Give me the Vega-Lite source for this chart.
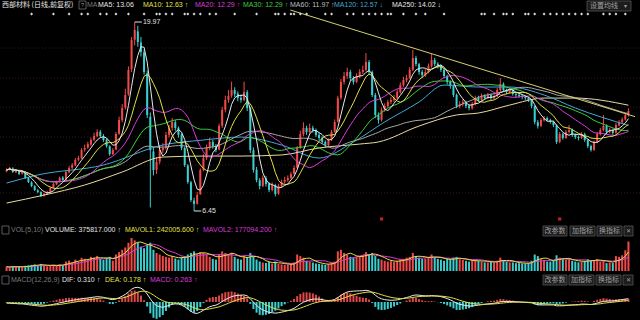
{
"$schema":"https://vega.github.io/schema/vega-lite/v6.json",
"width":640,"height":320,"padding":0,"autosize":{"type":"none"},
"background":"#000000",
"config":{"view":{"stroke":null},"axis":{"disable":true},"text":{"font":"Liberation Sans"}},
"resolve":{"scale":{"y":"independent"}},
"datasets":{
"k":[
{"i":0,"o":9.30,"h":9.50,"l":9.22,"c":9.38,"v":54,"f":-0.10,"e":-0.08,"m":-0.04},
{"i":1,"o":9.40,"h":9.62,"l":9.35,"c":9.53,"v":48,"f":-0.12,"e":-0.09,"m":-0.06},
{"i":2,"o":9.50,"h":9.58,"l":9.18,"c":9.24,"v":60,"f":-0.15,"e":-0.10,"m":-0.10},
{"i":3,"o":9.22,"h":9.45,"l":9.15,"c":9.38,"v":51,"f":-0.15,"e":-0.11,"m":-0.08},
{"i":4,"o":9.36,"h":9.42,"l":9.02,"c":9.10,"v":57,"f":-0.18,"e":-0.12,"m":-0.11},
{"i":5,"o":9.12,"h":9.32,"l":9.05,"c":9.24,"v":48,"f":-0.18,"e":-0.14,"m":-0.09},
{"i":6,"o":9.20,"h":9.26,"l":8.74,"c":8.81,"v":66,"f":-0.22,"e":-0.15,"m":-0.14},
{"i":7,"o":8.80,"h":8.88,"l":8.45,"c":8.53,"v":72,"f":-0.26,"e":-0.17,"m":-0.17},
{"i":8,"o":8.50,"h":8.58,"l":8.16,"c":8.24,"v":78,"f":-0.30,"e":-0.20,"m":-0.20},
{"i":9,"o":8.22,"h":8.30,"l":7.88,"c":7.95,"v":84,"f":-0.34,"e":-0.23,"m":-0.23},
{"i":10,"o":7.92,"h":8.02,"l":7.72,"c":7.81,"v":72,"f":-0.36,"e":-0.25,"m":-0.21},
{"i":11,"o":7.80,"h":7.86,"l":7.45,"c":7.52,"v":90,"f":-0.40,"e":-0.28,"m":-0.23},
{"i":12,"o":7.55,"h":7.76,"l":7.48,"c":7.67,"v":66,"f":-0.38,"e":-0.30,"m":-0.16},
{"i":13,"o":7.66,"h":7.90,"l":7.60,"c":7.81,"v":60,"f":-0.34,"e":-0.31,"m":-0.06},
{"i":14,"o":7.82,"h":8.18,"l":7.78,"c":8.10,"v":72,"f":-0.28,"e":-0.30,"m":0.05},
{"i":15,"o":8.12,"h":8.46,"l":8.05,"c":8.38,"v":78,"f":-0.22,"e":-0.29,"m":0.13},
{"i":16,"o":8.36,"h":8.62,"l":8.30,"c":8.53,"v":66,"f":-0.16,"e":-0.26,"m":0.20},
{"i":17,"o":8.52,"h":8.92,"l":8.48,"c":8.81,"v":84,"f":-0.08,"e":-0.23,"m":0.29},
{"i":18,"o":8.84,"h":8.95,"l":8.60,"c":8.67,"v":72,"f":-0.04,"e":-0.19,"m":0.30},
{"i":19,"o":8.70,"h":9.35,"l":8.65,"c":9.24,"v":120,"f":0.04,"e":-0.14,"m":0.37},
{"i":20,"o":9.22,"h":9.66,"l":9.15,"c":9.53,"v":132,"f":0.10,"e":-0.09,"m":0.39},
{"i":21,"o":9.55,"h":9.88,"l":9.45,"c":9.74,"v":108,"f":0.15,"e":-0.05,"m":0.39},
{"i":22,"o":9.72,"h":10.25,"l":9.66,"c":10.10,"v":144,"f":0.20,"e":0.00,"m":0.39},
{"i":23,"o":10.12,"h":10.40,"l":10.00,"c":10.24,"v":120,"f":0.24,"e":0.05,"m":0.38},
{"i":24,"o":10.22,"h":10.95,"l":10.18,"c":10.81,"v":168,"f":0.30,"e":0.10,"m":0.40},
{"i":25,"o":10.84,"h":11.20,"l":10.70,"c":10.96,"v":156,"f":0.34,"e":0.15,"m":0.38},
{"i":26,"o":10.98,"h":11.40,"l":10.90,"c":11.24,"v":144,"f":0.38,"e":0.20,"m":0.37},
{"i":27,"o":11.20,"h":11.70,"l":11.12,"c":11.53,"v":180,"f":0.42,"e":0.24,"m":0.36},
{"i":28,"o":11.55,"h":12.05,"l":11.45,"c":11.82,"v":168,"f":0.46,"e":0.28,"m":0.35},
{"i":29,"o":11.80,"h":12.30,"l":11.72,"c":12.10,"v":192,"f":0.50,"e":0.33,"m":0.35},
{"i":30,"o":12.12,"h":12.25,"l":11.70,"c":11.82,"v":156,"f":0.48,"e":0.36,"m":0.24},
{"i":31,"o":11.80,"h":11.95,"l":11.40,"c":11.53,"v":144,"f":0.44,"e":0.37,"m":0.13},
{"i":32,"o":11.55,"h":11.62,"l":10.98,"c":11.10,"v":168,"f":0.36,"e":0.37,"m":-0.02},
{"i":33,"o":11.08,"h":11.15,"l":10.40,"c":10.53,"v":180,"f":0.26,"e":0.35,"m":-0.18},
{"i":34,"o":10.52,"h":10.95,"l":10.45,"c":10.81,"v":132,"f":0.22,"e":0.32,"m":-0.20},
{"i":35,"o":10.85,"h":12.10,"l":10.80,"c":11.96,"v":210,"f":0.28,"e":0.31,"m":-0.07},
{"i":36,"o":11.98,"h":13.20,"l":11.90,"c":12.96,"v":240,"f":0.40,"e":0.33,"m":0.14},
{"i":37,"o":12.95,"h":14.10,"l":12.80,"c":13.82,"v":270,"f":0.55,"e":0.38,"m":0.35},
{"i":38,"o":13.85,"h":15.20,"l":13.70,"c":14.75,"v":300,"f":0.72,"e":0.44,"m":0.55},
{"i":39,"o":14.80,"h":16.80,"l":14.70,"c":16.54,"v":360,"f":0.95,"e":0.55,"m":0.81},
{"i":40,"o":16.60,"h":18.90,"l":16.40,"c":18.68,"v":420,"f":1.20,"e":0.68,"m":1.05},
{"i":41,"o":18.70,"h":19.97,"l":18.30,"c":19.40,"v":390,"f":1.35,"e":0.81,"m":1.08},
{"i":42,"o":19.30,"h":19.70,"l":18.20,"c":18.54,"v":360,"f":1.38,"e":0.93,"m":0.91},
{"i":43,"o":18.50,"h":18.90,"l":17.50,"c":17.82,"v":310,"f":1.30,"e":1.00,"m":0.60},
{"i":44,"o":17.80,"h":18.00,"l":16.20,"c":16.39,"v":290,"f":1.10,"e":1.02,"m":0.16},
{"i":45,"o":16.30,"h":16.50,"l":13.10,"c":13.32,"v":340,"f":0.75,"e":0.97,"m":-0.43},
{"i":46,"o":13.20,"h":13.50,"l":6.70,"c":10.81,"v":360,"f":0.30,"e":0.83,"m":-1.07},
{"i":47,"o":10.70,"h":11.00,"l":9.00,"c":9.38,"v":270,"f":-0.10,"e":0.65,"m":-1.49},
{"i":48,"o":9.40,"h":10.30,"l":9.10,"c":9.96,"v":230,"f":-0.35,"e":0.45,"m":-1.59},
{"i":49,"o":9.98,"h":11.10,"l":9.80,"c":10.81,"v":210,"f":-0.45,"e":0.27,"m":-1.44},
{"i":50,"o":10.80,"h":11.30,"l":10.60,"c":10.96,"v":190,"f":-0.50,"e":0.11,"m":-1.23},
{"i":51,"o":10.95,"h":12.10,"l":10.85,"c":11.89,"v":180,"f":-0.42,"e":0.01,"m":-0.85},
{"i":52,"o":11.90,"h":12.60,"l":11.70,"c":12.39,"v":170,"f":-0.32,"e":-0.06,"m":-0.52},
{"i":53,"o":12.40,"h":13.10,"l":12.20,"c":12.82,"v":190,"f":-0.22,"e":-0.09,"m":-0.26},
{"i":54,"o":12.80,"h":12.95,"l":12.20,"c":12.39,"v":160,"f":-0.18,"e":-0.11,"m":-0.14},
{"i":55,"o":12.40,"h":12.50,"l":11.70,"c":11.89,"v":145,"f":-0.20,"e":-0.13,"m":-0.15},
{"i":56,"o":11.90,"h":12.00,"l":10.80,"c":10.96,"v":180,"f":-0.30,"e":-0.16,"m":-0.28},
{"i":57,"o":10.95,"h":11.05,"l":9.60,"c":9.74,"v":190,"f":-0.45,"e":-0.22,"m":-0.46},
{"i":58,"o":9.70,"h":9.80,"l":8.40,"c":8.53,"v":210,"f":-0.65,"e":-0.31,"m":-0.69},
{"i":59,"o":8.50,"h":8.60,"l":7.10,"c":7.24,"v":230,"f":-0.88,"e":-0.42,"m":-0.92},
{"i":60,"o":7.20,"h":7.40,"l":6.45,"c":6.95,"v":250,"f":-1.05,"e":-0.55,"m":-1.01},
{"i":61,"o":6.98,"h":7.80,"l":6.90,"c":7.60,"v":215,"f":-1.08,"e":-0.65,"m":-0.85},
{"i":62,"o":7.65,"h":9.50,"l":7.60,"c":9.38,"v":240,"f":-0.95,"e":-0.71,"m":-0.48},
{"i":63,"o":9.40,"h":10.50,"l":9.30,"c":10.24,"v":230,"f":-0.78,"e":-0.73,"m":-0.11},
{"i":64,"o":10.25,"h":11.20,"l":10.10,"c":10.96,"v":205,"f":-0.60,"e":-0.70,"m":0.20},
{"i":65,"o":10.98,"h":11.70,"l":10.80,"c":11.39,"v":180,"f":-0.45,"e":-0.65,"m":0.40},
{"i":66,"o":11.40,"h":11.55,"l":10.90,"c":11.10,"v":155,"f":-0.36,"e":-0.59,"m":0.47},
{"i":67,"o":11.10,"h":11.25,"l":10.65,"c":10.81,"v":145,"f":-0.30,"e":-0.53,"m":0.47},
{"i":68,"o":10.85,"h":12.70,"l":10.80,"c":12.53,"v":215,"f":-0.15,"e":-0.46,"m":0.61},
{"i":69,"o":12.55,"h":13.90,"l":12.40,"c":13.68,"v":250,"f":0.05,"e":-0.36,"m":0.81},
{"i":70,"o":13.70,"h":14.70,"l":13.50,"c":14.39,"v":230,"f":0.22,"e":-0.24,"m":0.92},
{"i":71,"o":14.40,"h":15.10,"l":14.20,"c":14.68,"v":205,"f":0.36,"e":-0.12,"m":0.96},
{"i":72,"o":14.70,"h":15.70,"l":14.55,"c":15.11,"v":230,"f":0.50,"e":0.00,"m":0.99},
{"i":73,"o":15.10,"h":15.30,"l":14.60,"c":14.82,"v":180,"f":0.58,"e":0.12,"m":0.92},
{"i":74,"o":14.85,"h":15.00,"l":14.30,"c":14.53,"v":155,"f":0.62,"e":0.22,"m":0.80},
{"i":75,"o":14.55,"h":14.80,"l":14.20,"c":14.39,"v":145,"f":0.64,"e":0.30,"m":0.68},
{"i":76,"o":14.40,"h":15.70,"l":14.30,"c":14.96,"v":190,"f":0.66,"e":0.37,"m":0.57},
{"i":77,"o":14.95,"h":15.10,"l":13.60,"c":13.82,"v":180,"f":0.58,"e":0.42,"m":0.33},
{"i":78,"o":13.80,"h":13.90,"l":10.60,"c":10.81,"v":230,"f":0.30,"e":0.39,"m":-0.18},
{"i":79,"o":10.80,"h":11.00,"l":9.20,"c":9.38,"v":180,"f":-0.02,"e":0.31,"m":-0.66},
{"i":80,"o":9.40,"h":9.60,"l":8.50,"c":8.67,"v":145,"f":-0.32,"e":0.18,"m":-1.01},
{"i":81,"o":8.65,"h":8.80,"l":8.00,"c":8.24,"v":120,"f":-0.58,"e":0.03,"m":-1.22},
{"i":82,"o":8.25,"h":9.00,"l":8.15,"c":8.81,"v":108,"f":-0.75,"e":-0.13,"m":-1.25},
{"i":83,"o":8.80,"h":8.95,"l":8.20,"c":8.38,"v":102,"f":-0.88,"e":-0.28,"m":-1.21},
{"i":84,"o":8.40,"h":8.50,"l":7.80,"c":7.95,"v":114,"f":-0.98,"e":-0.42,"m":-1.13},
{"i":85,"o":7.96,"h":8.50,"l":7.85,"c":8.31,"v":96,"f":-1.02,"e":-0.54,"m":-0.96},
{"i":86,"o":8.30,"h":8.40,"l":7.50,"c":7.67,"v":120,"f":-1.05,"e":-0.64,"m":-0.82},
{"i":87,"o":7.70,"h":8.40,"l":7.60,"c":8.24,"v":90,"f":-1.02,"e":-0.72,"m":-0.61},
{"i":88,"o":8.22,"h":8.70,"l":8.10,"c":8.53,"v":84,"f":-0.96,"e":-0.77,"m":-0.39},
{"i":89,"o":8.55,"h":8.90,"l":8.40,"c":8.67,"v":78,"f":-0.90,"e":-0.79,"m":-0.22},
{"i":90,"o":8.65,"h":9.00,"l":8.55,"c":8.81,"v":84,"f":-0.82,"e":-0.80,"m":-0.04},
{"i":91,"o":8.82,"h":9.25,"l":8.75,"c":9.10,"v":90,"f":-0.72,"e":-0.78,"m":0.12},
{"i":92,"o":9.12,"h":9.70,"l":9.05,"c":9.53,"v":108,"f":-0.60,"e":-0.75,"m":0.29},
{"i":93,"o":9.55,"h":11.10,"l":9.50,"c":10.96,"v":210,"f":-0.40,"e":-0.68,"m":0.55},
{"i":94,"o":10.98,"h":12.20,"l":10.90,"c":11.96,"v":190,"f":-0.20,"e":-0.58,"m":0.76},
{"i":95,"o":11.95,"h":12.80,"l":11.80,"c":12.39,"v":170,"f":-0.02,"e":-0.47,"m":0.90},
{"i":96,"o":12.40,"h":12.55,"l":11.90,"c":12.10,"v":130,"f":0.10,"e":-0.36,"m":0.91},
{"i":97,"o":12.10,"h":12.70,"l":12.00,"c":12.39,"v":120,"f":0.20,"e":-0.25,"m":0.89},
{"i":98,"o":12.40,"h":12.55,"l":12.05,"c":12.24,"v":108,"f":0.26,"e":-0.14,"m":0.81},
{"i":99,"o":12.25,"h":12.35,"l":11.75,"c":11.89,"v":96,"f":0.28,"e":-0.06,"m":0.68},
{"i":100,"o":11.90,"h":12.05,"l":11.50,"c":11.67,"v":90,"f":0.26,"e":0.01,"m":0.51},
{"i":101,"o":11.68,"h":11.80,"l":11.25,"c":11.39,"v":84,"f":0.22,"e":0.05,"m":0.34},
{"i":102,"o":11.40,"h":11.50,"l":11.00,"c":11.17,"v":78,"f":0.16,"e":0.07,"m":0.18},
{"i":103,"o":11.15,"h":11.65,"l":11.05,"c":11.53,"v":90,"f":0.14,"e":0.08,"m":0.11},
{"i":104,"o":11.55,"h":12.25,"l":11.45,"c":12.10,"v":108,"f":0.16,"e":0.10,"m":0.12},
{"i":105,"o":12.12,"h":13.00,"l":12.05,"c":12.82,"v":120,"f":0.24,"e":0.13,"m":0.23},
{"i":106,"o":12.85,"h":14.70,"l":12.80,"c":14.53,"v":250,"f":0.42,"e":0.19,"m":0.47},
{"i":107,"o":14.55,"h":15.90,"l":14.40,"c":15.68,"v":270,"f":0.62,"e":0.27,"m":0.69},
{"i":108,"o":15.70,"h":16.40,"l":15.50,"c":16.11,"v":230,"f":0.80,"e":0.38,"m":0.84},
{"i":109,"o":16.10,"h":16.70,"l":15.90,"c":16.39,"v":205,"f":0.94,"e":0.49,"m":0.90},
{"i":110,"o":16.40,"h":16.55,"l":15.75,"c":15.96,"v":180,"f":1.00,"e":0.59,"m":0.82},
{"i":111,"o":15.95,"h":16.10,"l":15.50,"c":15.68,"v":170,"f":1.02,"e":0.68,"m":0.68},
{"i":112,"o":15.70,"h":16.30,"l":15.60,"c":16.11,"v":180,"f":1.04,"e":0.75,"m":0.58},
{"i":113,"o":16.10,"h":16.60,"l":15.95,"c":16.39,"v":190,"f":1.05,"e":0.81,"m":0.48},
{"i":114,"o":16.40,"h":16.85,"l":16.25,"c":16.54,"v":205,"f":1.06,"e":0.86,"m":0.40},
{"i":115,"o":16.55,"h":17.75,"l":16.45,"c":17.11,"v":240,"f":1.10,"e":0.91,"m":0.38},
{"i":116,"o":17.10,"h":17.25,"l":16.20,"c":16.39,"v":210,"f":1.05,"e":0.94,"m":0.23},
{"i":117,"o":16.40,"h":16.50,"l":14.60,"c":14.75,"v":230,"f":0.88,"e":0.93,"m":-0.09},
{"i":118,"o":14.75,"h":14.90,"l":13.10,"c":13.32,"v":190,"f":0.64,"e":0.87,"m":-0.46},
{"i":119,"o":13.30,"h":13.50,"l":12.70,"c":12.96,"v":155,"f":0.42,"e":0.78,"m":-0.72},
{"i":120,"o":12.98,"h":13.85,"l":12.85,"c":13.68,"v":145,"f":0.30,"e":0.68,"m":-0.76},
{"i":121,"o":13.70,"h":14.15,"l":13.55,"c":13.96,"v":130,"f":0.22,"e":0.59,"m":-0.74},
{"i":122,"o":13.95,"h":14.40,"l":13.85,"c":14.25,"v":120,"f":0.18,"e":0.51,"m":-0.66},
{"i":123,"o":14.26,"h":14.60,"l":14.10,"c":14.39,"v":125,"f":0.16,"e":0.44,"m":-0.56},
{"i":124,"o":14.40,"h":14.75,"l":14.25,"c":14.53,"v":115,"f":0.17,"e":0.38,"m":-0.43},
{"i":125,"o":14.55,"h":15.15,"l":14.45,"c":14.96,"v":130,"f":0.20,"e":0.35,"m":-0.29},
{"i":126,"o":14.95,"h":15.65,"l":14.85,"c":15.46,"v":150,"f":0.26,"e":0.33,"m":-0.14},
{"i":127,"o":15.45,"h":16.05,"l":15.35,"c":15.82,"v":155,"f":0.34,"e":0.33,"m":0.02},
{"i":128,"o":15.80,"h":16.20,"l":15.65,"c":15.96,"v":170,"f":0.42,"e":0.35,"m":0.14},
{"i":129,"o":15.98,"h":16.75,"l":15.90,"c":16.54,"v":180,"f":0.50,"e":0.38,"m":0.24},
{"i":130,"o":16.55,"h":17.97,"l":16.45,"c":17.39,"v":230,"f":0.62,"e":0.43,"m":0.38},
{"i":131,"o":17.40,"h":17.55,"l":16.80,"c":16.97,"v":190,"f":0.66,"e":0.47,"m":0.37},
{"i":132,"o":16.95,"h":17.05,"l":16.20,"c":16.39,"v":170,"f":0.64,"e":0.51,"m":0.27},
{"i":133,"o":16.40,"h":16.55,"l":15.95,"c":16.18,"v":155,"f":0.60,"e":0.53,"m":0.15},
{"i":134,"o":16.15,"h":16.60,"l":16.05,"c":16.39,"v":160,"f":0.58,"e":0.54,"m":0.09},
{"i":135,"o":16.40,"h":17.00,"l":16.30,"c":16.82,"v":180,"f":0.58,"e":0.55,"m":0.07},
{"i":136,"o":16.80,"h":17.70,"l":16.70,"c":17.25,"v":210,"f":0.60,"e":0.56,"m":0.09},
{"i":137,"o":17.25,"h":17.40,"l":16.80,"c":16.97,"v":170,"f":0.58,"e":0.56,"m":0.04},
{"i":138,"o":16.98,"h":17.10,"l":16.65,"c":16.82,"v":155,"f":0.55,"e":0.56,"m":-0.02},
{"i":139,"o":16.85,"h":16.95,"l":16.40,"c":16.54,"v":145,"f":0.50,"e":0.55,"m":-0.10},
{"i":140,"o":16.55,"h":16.65,"l":15.95,"c":16.11,"v":130,"f":0.42,"e":0.52,"m":-0.20},
{"i":141,"o":16.10,"h":16.20,"l":15.50,"c":15.68,"v":160,"f":0.32,"e":0.48,"m":-0.32},
{"i":142,"o":15.70,"h":15.80,"l":15.20,"c":15.39,"v":150,"f":0.20,"e":0.43,"m":-0.45},
{"i":143,"o":15.40,"h":15.50,"l":14.60,"c":14.75,"v":170,"f":0.05,"e":0.35,"m":-0.60},
{"i":144,"o":14.75,"h":14.85,"l":13.80,"c":13.96,"v":180,"f":-0.12,"e":0.26,"m":-0.75},
{"i":145,"o":13.95,"h":14.30,"l":13.80,"c":14.10,"v":150,"f":-0.22,"e":0.16,"m":-0.76},
{"i":146,"o":14.10,"h":14.45,"l":13.95,"c":14.25,"v":140,"f":-0.28,"e":0.07,"m":-0.71},
{"i":147,"o":14.25,"h":14.35,"l":13.80,"c":13.96,"v":130,"f":-0.34,"e":-0.01,"m":-0.66},
{"i":148,"o":13.95,"h":14.10,"l":13.65,"c":13.82,"v":120,"f":-0.38,"e":-0.08,"m":-0.59},
{"i":149,"o":13.80,"h":14.25,"l":13.70,"c":14.10,"v":130,"f":-0.38,"e":-0.14,"m":-0.48},
{"i":150,"o":14.10,"h":14.70,"l":14.00,"c":14.53,"v":140,"f":-0.34,"e":-0.18,"m":-0.32},
{"i":151,"o":14.55,"h":14.70,"l":14.25,"c":14.39,"v":130,"f":-0.30,"e":-0.21,"m":-0.19},
{"i":152,"o":14.40,"h":14.85,"l":14.30,"c":14.68,"v":120,"f":-0.26,"e":-0.22,"m":-0.09},
{"i":153,"o":14.70,"h":14.80,"l":14.40,"c":14.53,"v":110,"f":-0.22,"e":-0.22,"m":0.00},
{"i":154,"o":14.52,"h":14.90,"l":14.45,"c":14.75,"v":110,"f":-0.18,"e":-0.21,"m":0.06},
{"i":155,"o":14.75,"h":14.85,"l":14.40,"c":14.53,"v":120,"f":-0.15,"e":-0.20,"m":0.10},
{"i":156,"o":14.52,"h":14.80,"l":14.45,"c":14.68,"v":110,"f":-0.12,"e":-0.18,"m":0.12},
{"i":157,"o":14.70,"h":15.25,"l":14.60,"c":15.11,"v":130,"f":-0.06,"e":-0.16,"m":0.20},
{"i":158,"o":15.10,"h":15.96,"l":15.00,"c":15.54,"v":170,"f":0.02,"e":-0.12,"m":0.28},
{"i":159,"o":15.55,"h":15.65,"l":15.00,"c":15.11,"v":140,"f":0.04,"e":-0.09,"m":0.26},
{"i":160,"o":15.10,"h":15.20,"l":14.80,"c":14.96,"v":120,"f":0.04,"e":-0.06,"m":0.21},
{"i":161,"o":14.95,"h":15.25,"l":14.85,"c":15.11,"v":110,"f":0.05,"e":-0.04,"m":0.18},
{"i":162,"o":15.12,"h":15.20,"l":14.70,"c":14.82,"v":110,"f":0.04,"e":-0.03,"m":0.13},
{"i":163,"o":14.82,"h":14.95,"l":14.60,"c":14.75,"v":100,"f":0.02,"e":-0.02,"m":0.07},
{"i":164,"o":14.76,"h":14.85,"l":14.55,"c":14.68,"v":100,"f":0.00,"e":-0.01,"m":0.03},
{"i":165,"o":14.70,"h":14.80,"l":14.45,"c":14.60,"v":95,"f":-0.02,"e":-0.01,"m":-0.01},
{"i":166,"o":14.60,"h":14.72,"l":14.40,"c":14.53,"v":95,"f":-0.04,"e":-0.02,"m":-0.04},
{"i":167,"o":14.52,"h":14.62,"l":14.25,"c":14.39,"v":100,"f":-0.06,"e":-0.03,"m":-0.07},
{"i":168,"o":14.38,"h":14.45,"l":13.80,"c":13.96,"v":130,"f":-0.08,"e":-0.04,"m":-0.08},
{"i":169,"o":13.95,"h":14.00,"l":12.65,"c":12.82,"v":210,"f":-0.18,"e":-0.07,"m":-0.23},
{"i":170,"o":12.80,"h":12.95,"l":12.35,"c":12.53,"v":190,"f":-0.26,"e":-0.11,"m":-0.31},
{"i":171,"o":12.55,"h":13.10,"l":12.45,"c":12.96,"v":150,"f":-0.28,"e":-0.14,"m":-0.28},
{"i":172,"o":12.95,"h":13.25,"l":12.85,"c":13.10,"v":140,"f":-0.28,"e":-0.17,"m":-0.22},
{"i":173,"o":13.10,"h":13.20,"l":12.85,"c":12.96,"v":120,"f":-0.28,"e":-0.19,"m":-0.18},
{"i":174,"o":12.95,"h":13.05,"l":12.70,"c":12.82,"v":120,"f":-0.28,"e":-0.21,"m":-0.14},
{"i":175,"o":12.82,"h":12.90,"l":12.45,"c":12.60,"v":130,"f":-0.28,"e":-0.22,"m":-0.12},
{"i":176,"o":12.58,"h":12.65,"l":11.25,"c":11.39,"v":200,"f":-0.36,"e":-0.25,"m":-0.22},
{"i":177,"o":11.40,"h":12.10,"l":11.30,"c":11.96,"v":170,"f":-0.36,"e":-0.27,"m":-0.18},
{"i":178,"o":11.95,"h":12.05,"l":11.55,"c":11.67,"v":150,"f":-0.36,"e":-0.29,"m":-0.14},
{"i":179,"o":11.68,"h":12.25,"l":11.60,"c":12.10,"v":140,"f":-0.33,"e":-0.30,"m":-0.06},
{"i":180,"o":12.10,"h":12.60,"l":12.00,"c":12.24,"v":150,"f":-0.30,"e":-0.30,"m":0.00},
{"i":181,"o":12.25,"h":12.35,"l":11.75,"c":11.89,"v":130,"f":-0.28,"e":-0.29,"m":0.03},
{"i":182,"o":11.90,"h":12.00,"l":11.60,"c":11.74,"v":120,"f":-0.26,"e":-0.29,"m":0.05},
{"i":183,"o":11.75,"h":11.85,"l":11.50,"c":11.67,"v":110,"f":-0.24,"e":-0.28,"m":0.08},
{"i":184,"o":11.68,"h":12.10,"l":11.60,"c":11.96,"v":120,"f":-0.20,"e":-0.26,"m":0.12},
{"i":185,"o":11.95,"h":12.05,"l":11.40,"c":11.53,"v":130,"f":-0.20,"e":-0.25,"m":0.10},
{"i":186,"o":11.52,"h":11.60,"l":10.95,"c":11.10,"v":150,"f":-0.22,"e":-0.24,"m":0.05},
{"i":187,"o":11.10,"h":11.20,"l":10.70,"c":10.81,"v":130,"f":-0.24,"e":-0.24,"m":0.01},
{"i":188,"o":10.82,"h":11.50,"l":10.75,"c":11.39,"v":140,"f":-0.18,"e":-0.23,"m":0.10},
{"i":189,"o":11.40,"h":12.10,"l":11.30,"c":11.96,"v":150,"f":-0.10,"e":-0.20,"m":0.21},
{"i":190,"o":11.95,"h":12.40,"l":11.85,"c":12.24,"v":120,"f":-0.02,"e":-0.17,"m":0.29},
{"i":191,"o":12.25,"h":13.32,"l":12.15,"c":12.53,"v":130,"f":0.06,"e":-0.12,"m":0.36},
{"i":192,"o":12.55,"h":12.65,"l":11.95,"c":12.10,"v":100,"f":0.08,"e":-0.08,"m":0.32},
{"i":193,"o":12.10,"h":12.40,"l":12.00,"c":12.24,"v":110,"f":0.10,"e":-0.05,"m":0.29},
{"i":194,"o":12.25,"h":12.35,"l":11.90,"c":12.03,"v":101,"f":0.10,"e":-0.02,"m":0.23},
{"i":195,"o":12.05,"h":12.75,"l":11.98,"c":12.60,"v":190,"f":0.14,"e":0.01,"m":0.25},
{"i":196,"o":12.58,"h":12.95,"l":12.50,"c":12.80,"v":180,"f":0.18,"e":0.05,"m":0.27},
{"i":197,"o":12.80,"h":13.15,"l":12.70,"c":13.00,"v":200,"f":0.22,"e":0.08,"m":0.28},
{"i":198,"o":13.00,"h":13.45,"l":12.92,"c":13.30,"v":264,"f":0.27,"e":0.12,"m":0.30},
{"i":199,"o":13.30,"h":13.80,"l":13.20,"c":13.60,"v":376,"f":0.31,"e":0.178,"m":0.263}
],
"ma120":[{"i":0,"p":8.45},{"i":10,"p":9.03},{"i":31,"p":9.74},{"i":50,"p":11.17},{"i":63,"p":11.53},{"i":75,"p":11.74},{"i":88,"p":11.17},{"i":100,"p":10.24},{"i":111,"p":11.39},{"i":121,"p":12.82},{"i":132,"p":14.25},{"i":140,"p":15.46},{"i":151,"p":15.32},{"i":161,"p":15.32},{"i":172,"p":14.75},{"i":182,"p":13.82},{"i":199,"p":12.57}],
"ma250":[{"i":0,"p":7.02},{"i":12,"p":7.59},{"i":25,"p":8.31},{"i":37,"p":9.24},{"i":50,"p":10.31},{"i":63,"p":10.38},{"i":75,"p":10.38},{"i":88,"p":10.46},{"i":100,"p":10.96},{"i":113,"p":11.24},{"i":119,"p":11.39},{"i":132,"p":12.53},{"i":144,"p":13.32},{"i":151,"p":13.46},{"i":161,"p":14.03},{"i":172,"p":14.53},{"i":182,"p":14.53},{"i":199,"p":14.02}],
"trend":[{"i":90.8,"p":20.83},{"i":201.1,"p":13.2}],
"grid":[{"p":18.11},{"p":15.96},{"p":13.89},{"p":11.74},{"p":9.74},{"p":7.74}],
"mk":[{"i":8},{"i":15},{"i":20},{"i":24},{"i":26},{"i":30},{"i":32},{"i":35},{"i":39},{"i":44},{"i":48},{"i":49},{"i":51},{"i":53},{"i":57},{"i":58},{"i":60},{"i":62},{"i":65},{"i":67},{"i":73},{"i":80},{"i":86},{"i":87},{"i":89},{"i":91},{"i":92},{"i":94},{"i":96},{"i":102},{"i":104},{"i":109},{"i":111},{"i":114},{"i":116},{"i":118},{"i":120},{"i":122},{"i":123},{"i":127},{"i":131},{"i":134},{"i":140},{"i":152},{"i":153},{"i":156},{"i":159},{"i":160},{"i":162},{"i":166},{"i":167},{"i":169},{"i":172},{"i":174},{"i":176},{"i":178},{"i":180},{"i":182},{"i":184},{"i":186},{"i":191},{"i":193},{"i":195},{"i":198}],
"red":[{"i":120},{"i":177}],
"ext":[{"i":41,"i2":43.3,"p":19.97,"t":"19.97"},{"i":60,"i2":62.3,"p":6.45,"t":"6.45"}]
},
"layer":[
{"data":{"name":"grid"},"mark":{"type":"rule","color":"#3a1616","strokeDash":[1,2],"strokeWidth":1},"encoding":{"y":{"field":"p","type":"quantitative","scale":{"domain":[5.95,20.83],"range":[218,10],"nice":false,"zero":false}}}},
{"data":{"values":[{}]},"mark":{"type":"rule","color":"#2e2e2e","x":0,"x2":640,"y":224},"encoding":{}},
{"data":{"values":[{}]},"mark":{"type":"rule","color":"#2e2e2e","x":0,"x2":640,"y":274},"encoding":{}},
{"data":{"values":[{}]},"mark":{"type":"rule","color":"#3a3a3a","x":635.5,"y":14,"y2":320},"encoding":{}},
{"data":{"name":"k"},"mark":{"type":"rule","strokeWidth":1},"encoding":{"x":{"field":"i","type":"quantitative","scale":{"domain":[-0.5,201.1],"nice":false,"zero":false}},"y":{"field":"l","type":"quantitative","scale":{"domain":[5.95,20.83],"range":[218,10],"nice":false,"zero":false}},"y2":{"field":"h"},"color":{"condition":{"test":"datum.c >= datum.o","value":"#f24a4a"},"value":"#3ccfcf"}}},
{"data":{"name":"k"},"mark":{"type":"bar","width":2},"encoding":{"x":{"field":"i","type":"quantitative","scale":{"domain":[-0.5,201.1],"nice":false,"zero":false}},"y":{"field":"o","type":"quantitative","scale":{"domain":[5.95,20.83],"range":[218,10],"nice":false,"zero":false}},"y2":{"field":"c"},"color":{"condition":{"test":"datum.c >= datum.o","value":"#f24a4a"},"value":"#3ccfcf"}}},
{"data":{"name":"ma250"},"mark":{"type":"line","color":"#e6dca0","strokeWidth":1,"interpolate":"monotone"},"encoding":{"x":{"field":"i","type":"quantitative","scale":{"domain":[-0.5,201.1],"nice":false,"zero":false}},"y":{"field":"p","type":"quantitative","scale":{"domain":[5.95,20.83],"range":[218,10],"nice":false,"zero":false}}}},
{"data":{"name":"ma120"},"mark":{"type":"line","color":"#3fa9d6","strokeWidth":1,"interpolate":"monotone"},"encoding":{"x":{"field":"i","type":"quantitative","scale":{"domain":[-0.5,201.1],"nice":false,"zero":false}},"y":{"field":"p","type":"quantitative","scale":{"domain":[5.95,20.83],"range":[218,10],"nice":false,"zero":false}}}},
{"data":{"name":"k"},"transform":[{"window":[{"op":"mean","field":"c","as":"ma"}],"frame":[-59,0],"sort":[{"field":"i"}]}],"mark":{"type":"line","color":"#a8a8a8","strokeWidth":1},"encoding":{"x":{"field":"i","type":"quantitative","scale":{"domain":[-0.5,201.1],"nice":false,"zero":false}},"y":{"field":"ma","type":"quantitative","scale":{"domain":[5.95,20.83],"range":[218,10],"nice":false,"zero":false}}}},
{"data":{"name":"k"},"transform":[{"window":[{"op":"mean","field":"c","as":"ma"}],"frame":[-29,0],"sort":[{"field":"i"}]}],"mark":{"type":"line","color":"#3ccf3c","strokeWidth":1},"encoding":{"x":{"field":"i","type":"quantitative","scale":{"domain":[-0.5,201.1],"nice":false,"zero":false}},"y":{"field":"ma","type":"quantitative","scale":{"domain":[5.95,20.83],"range":[218,10],"nice":false,"zero":false}}}},
{"data":{"name":"k"},"transform":[{"window":[{"op":"mean","field":"c","as":"ma"}],"frame":[-19,0],"sort":[{"field":"i"}]}],"mark":{"type":"line","color":"#d83cd8","strokeWidth":1},"encoding":{"x":{"field":"i","type":"quantitative","scale":{"domain":[-0.5,201.1],"nice":false,"zero":false}},"y":{"field":"ma","type":"quantitative","scale":{"domain":[5.95,20.83],"range":[218,10],"nice":false,"zero":false}}}},
{"data":{"name":"k"},"transform":[{"window":[{"op":"mean","field":"c","as":"ma"}],"frame":[-9,0],"sort":[{"field":"i"}]}],"mark":{"type":"line","color":"#e0e048","strokeWidth":1},"encoding":{"x":{"field":"i","type":"quantitative","scale":{"domain":[-0.5,201.1],"nice":false,"zero":false}},"y":{"field":"ma","type":"quantitative","scale":{"domain":[5.95,20.83],"range":[218,10],"nice":false,"zero":false}}}},
{"data":{"name":"k"},"transform":[{"window":[{"op":"mean","field":"c","as":"ma"}],"frame":[-4,0],"sort":[{"field":"i"}]}],"mark":{"type":"line","color":"#e8e8e8","strokeWidth":1},"encoding":{"x":{"field":"i","type":"quantitative","scale":{"domain":[-0.5,201.1],"nice":false,"zero":false}},"y":{"field":"ma","type":"quantitative","scale":{"domain":[5.95,20.83],"range":[218,10],"nice":false,"zero":false}}}},
{"data":{"name":"trend"},"mark":{"type":"line","color":"#d6d070","strokeWidth":1},"encoding":{"x":{"field":"i","type":"quantitative","scale":{"domain":[-0.5,201.1],"nice":false,"zero":false}},"y":{"field":"p","type":"quantitative","scale":{"domain":[5.95,20.83],"range":[218,10],"nice":false,"zero":false}}}},
{"data":{"name":"ext"},"mark":{"type":"rule","color":"#e0e0e0","strokeWidth":1},"encoding":{"x":{"field":"i","type":"quantitative","scale":{"domain":[-0.5,201.1],"nice":false,"zero":false}},"x2":{"field":"i2"},"y":{"field":"p","type":"quantitative","scale":{"domain":[5.95,20.83],"range":[218,10],"nice":false,"zero":false}}}},
{"data":{"name":"ext"},"mark":{"type":"text","color":"#e0e0e0","fontSize":7,"align":"left","baseline":"middle","dx":1},"encoding":{"x":{"field":"i2","type":"quantitative","scale":{"domain":[-0.5,201.1],"nice":false,"zero":false}},"y":{"field":"p","type":"quantitative","scale":{"domain":[5.95,20.83],"range":[218,10],"nice":false,"zero":false}},"text":{"field":"t"}}},
{"data":{"name":"mk"},"mark":{"type":"point","shape":"diamond","filled":true,"size":9,"color":"#d8d8d8","opacity":1},"encoding":{"x":{"field":"i","type":"quantitative","scale":{"domain":[-0.5,201.1],"nice":false,"zero":false}},"y":{"value":14}}},
{"data":{"name":"red"},"mark":{"type":"point","shape":"square","filled":true,"size":10,"color":"#c02020","opacity":1},"encoding":{"x":{"field":"i","type":"quantitative","scale":{"domain":[-0.5,201.1],"nice":false,"zero":false}},"y":{"value":219}}},
{"data":{"name":"k"},"mark":{"type":"bar","width":2},"encoding":{"x":{"field":"i","type":"quantitative","scale":{"domain":[-0.5,201.1],"nice":false,"zero":false}},"y":{"field":"v","type":"quantitative","scale":{"domain":[0,420],"range":[271,238],"nice":false}},"color":{"condition":{"test":"datum.c >= datum.o","value":"#f24a4a"},"value":"#3ccfcf"}}},
{"data":{"name":"k"},"transform":[{"window":[{"op":"mean","field":"v","as":"mv"}],"frame":[-9,0],"sort":[{"field":"i"}]}],"mark":{"type":"line","color":"#d83cd8","strokeWidth":1},"encoding":{"x":{"field":"i","type":"quantitative","scale":{"domain":[-0.5,201.1],"nice":false,"zero":false}},"y":{"field":"mv","type":"quantitative","scale":{"domain":[0,420],"range":[271,238],"nice":false}}}},
{"data":{"name":"k"},"transform":[{"window":[{"op":"mean","field":"v","as":"mv"}],"frame":[-4,0],"sort":[{"field":"i"}]}],"mark":{"type":"line","color":"#e0e048","strokeWidth":1},"encoding":{"x":{"field":"i","type":"quantitative","scale":{"domain":[-0.5,201.1],"nice":false,"zero":false}},"y":{"field":"mv","type":"quantitative","scale":{"domain":[0,420],"range":[271,238],"nice":false}}}},
{"data":{"name":"k"},"mark":{"type":"bar","width":2},"encoding":{"x":{"field":"i","type":"quantitative","scale":{"domain":[-0.5,201.1],"nice":false,"zero":false}},"y":{"field":"m","type":"quantitative","scale":{"domain":[-1.7,2.26],"range":[320,278],"nice":false,"zero":true}},"color":{"condition":{"test":"datum.m >= 0","value":"#e04848"},"value":"#3ccfcf"}}},
{"data":{"name":"k"},"mark":{"type":"line","color":"#e8e8e8","strokeWidth":1},"encoding":{"x":{"field":"i","type":"quantitative","scale":{"domain":[-0.5,201.1],"nice":false,"zero":false}},"y":{"field":"f","type":"quantitative","scale":{"domain":[-1.7,2.26],"range":[320,278],"nice":false,"zero":false}}}},
{"data":{"name":"k"},"mark":{"type":"line","color":"#e0e048","strokeWidth":1},"encoding":{"x":{"field":"i","type":"quantitative","scale":{"domain":[-0.5,201.1],"nice":false,"zero":false}},"y":{"field":"e","type":"quantitative","scale":{"domain":[-1.7,2.26],"range":[320,278],"nice":false,"zero":false}}}},
{"data":{"values":[{}]},"mark":{"type":"text","text":"西部材料 (日线,前复权)","font":"Noto Sans CJK SC","fontSize":7,"x":2,"y":5,"align":"left","baseline":"middle","color":"#e6e6e6"},"encoding":{}},
{"data":{"values":[{}]},"mark":{"type":"rect","x":79,"x2":86,"y":1,"y2":9,"fill":"#000000","stroke":"#707070","strokeWidth":0.8},"encoding":{}},
{"data":{"values":[{}]},"mark":{"type":"text","text":"?","fontSize":6,"x":82.5,"y":5,"align":"center","baseline":"middle","color":"#909090"},"encoding":{}},
{"data":{"values":[{}]},"mark":{"type":"text","text":"MA","fontSize":7,"x":87,"y":5,"align":"left","baseline":"middle","color":"#7a7a7a"},"encoding":{}},
{"data":{"values":[{}]},"mark":{"type":"text","text":"MA5: 13.06","fontSize":7,"x":98,"y":5,"align":"left","baseline":"middle","color":"#e6e6e6"},"encoding":{}},
{"data":{"values":[{}]},"mark":{"type":"text","text":"MA10: 12.63 ↑","fontSize":7,"x":143,"y":5,"align":"left","baseline":"middle","color":"#e0e048"},"encoding":{}},
{"data":{"values":[{}]},"mark":{"type":"text","text":"MA20: 12.29 ↑","fontSize":7,"x":195,"y":5,"align":"left","baseline":"middle","color":"#d83cd8"},"encoding":{}},
{"data":{"values":[{}]},"mark":{"type":"text","text":"MA30: 12.29 ↑","fontSize":7,"x":243,"y":5,"align":"left","baseline":"middle","color":"#3ccf3c"},"encoding":{}},
{"data":{"values":[{}]},"mark":{"type":"text","text":"MA60: 11.97 ↑","fontSize":7,"x":290,"y":5,"align":"left","baseline":"middle","color":"#bdbdbd"},"encoding":{}},
{"data":{"values":[{}]},"mark":{"type":"text","text":"MA120: 12.57 ↓","fontSize":7,"x":334,"y":5,"align":"left","baseline":"middle","color":"#3fa9d6"},"encoding":{}},
{"data":{"values":[{}]},"mark":{"type":"text","text":"MA250: 14.02 ↓","fontSize":7,"x":392,"y":5,"align":"left","baseline":"middle","color":"#e6e6e6"},"encoding":{}},
{"data":{"values":[{}]},"mark":{"type":"rect","x":587,"x2":631,"y":1,"y2":11,"fill":"#1c1c1c","stroke":"#555555","strokeWidth":0.8},"encoding":{}},
{"data":{"values":[{}]},"mark":{"type":"text","text":"设置均线","font":"Noto Sans CJK SC","fontSize":7,"x":590,"y":6,"align":"left","baseline":"middle","color":"#a0a0a0"},"encoding":{}},
{"data":{"values":[{}]},"mark":{"type":"text","text":"▾","fontSize":6,"x":625,"y":6,"align":"center","baseline":"middle","color":"#a0a0a0"},"encoding":{}},
{"data":{"values":[{}]},"mark":{"type":"rect","x":2,"x2":9,"y":226,"y2":234,"fill":"#000000","stroke":"#707070","strokeWidth":0.8},"encoding":{}},
{"data":{"values":[{}]},"mark":{"type":"text","text":"VOL(5,10)","fontSize":7,"x":11,"y":230,"align":"left","baseline":"middle","color":"#7a7a7a"},"encoding":{}},
{"data":{"values":[{}]},"mark":{"type":"text","text":"VOLUME: 375817.000 ↑","fontSize":7,"x":45,"y":230,"align":"left","baseline":"middle","color":"#e6e6e6"},"encoding":{}},
{"data":{"values":[{}]},"mark":{"type":"text","text":"MAVOL1: 242005.600 ↑","fontSize":7,"x":125,"y":230,"align":"left","baseline":"middle","color":"#e0e048"},"encoding":{}},
{"data":{"values":[{}]},"mark":{"type":"text","text":"MAVOL2: 177094.200 ↑","fontSize":7,"x":203,"y":230,"align":"left","baseline":"middle","color":"#d83cd8"},"encoding":{}},
{"data":{"values":[{}]},"mark":{"type":"rect","x":2,"x2":9,"y":276,"y2":284,"fill":"#000000","stroke":"#707070","strokeWidth":0.8},"encoding":{}},
{"data":{"values":[{}]},"mark":{"type":"text","text":"MACD(12,26,9)","fontSize":7,"x":11,"y":280,"align":"left","baseline":"middle","color":"#7a7a7a"},"encoding":{}},
{"data":{"values":[{}]},"mark":{"type":"text","text":"DIF: 0.310 ↑","fontSize":7,"x":62,"y":280,"align":"left","baseline":"middle","color":"#e6e6e6"},"encoding":{}},
{"data":{"values":[{}]},"mark":{"type":"text","text":"DEA: 0.178 ↑","fontSize":7,"x":105,"y":280,"align":"left","baseline":"middle","color":"#e0e048"},"encoding":{}},
{"data":{"values":[{}]},"mark":{"type":"text","text":"MACD: 0.263 ↑","fontSize":7,"x":150,"y":280,"align":"left","baseline":"middle","color":"#d83cd8"},"encoding":{}},
{"data":{"values":[{}]},"mark":{"type":"rect","x":543,"x2":567,"y":226,"y2":236,"fill":"#1c1c1c","stroke":"#555555","strokeWidth":0.8},"encoding":{}},
{"data":{"values":[{}]},"mark":{"type":"rect","x":570,"x2":595,"y":226,"y2":236,"fill":"#1c1c1c","stroke":"#555555","strokeWidth":0.8},"encoding":{}},
{"data":{"values":[{}]},"mark":{"type":"rect","x":597,"x2":622,"y":226,"y2":236,"fill":"#1c1c1c","stroke":"#555555","strokeWidth":0.8},"encoding":{}},
{"data":{"values":[{}]},"mark":{"type":"rect","x":624,"x2":633,"y":226,"y2":236,"fill":"#1c1c1c","stroke":"#555555","strokeWidth":0.8},"encoding":{}},
{"data":{"values":[{}]},"mark":{"type":"text","text":"改参数","font":"Noto Sans CJK SC","fontSize":7,"x":555,"y":231,"align":"center","baseline":"middle","color":"#a0a0a0"},"encoding":{}},
{"data":{"values":[{}]},"mark":{"type":"text","text":"加指标","font":"Noto Sans CJK SC","fontSize":7,"x":582.5,"y":231,"align":"center","baseline":"middle","color":"#a0a0a0"},"encoding":{}},
{"data":{"values":[{}]},"mark":{"type":"text","text":"换指标","font":"Noto Sans CJK SC","fontSize":7,"x":609.5,"y":231,"align":"center","baseline":"middle","color":"#a0a0a0"},"encoding":{}},
{"data":{"values":[{}]},"mark":{"type":"text","text":"✕","fontSize":6,"x":628.5,"y":231,"align":"center","baseline":"middle","color":"#a0a0a0"},"encoding":{}},
{"data":{"values":[{}]},"mark":{"type":"rect","x":543,"x2":567,"y":275,"y2":285,"fill":"#1c1c1c","stroke":"#555555","strokeWidth":0.8},"encoding":{}},
{"data":{"values":[{}]},"mark":{"type":"rect","x":569,"x2":594,"y":275,"y2":285,"fill":"#1c1c1c","stroke":"#555555","strokeWidth":0.8},"encoding":{}},
{"data":{"values":[{}]},"mark":{"type":"rect","x":596,"x2":621,"y":275,"y2":285,"fill":"#1c1c1c","stroke":"#555555","strokeWidth":0.8},"encoding":{}},
{"data":{"values":[{}]},"mark":{"type":"rect","x":623,"x2":633,"y":275,"y2":285,"fill":"#1c1c1c","stroke":"#555555","strokeWidth":0.8},"encoding":{}},
{"data":{"values":[{}]},"mark":{"type":"text","text":"改参数","font":"Noto Sans CJK SC","fontSize":7,"x":555,"y":280,"align":"center","baseline":"middle","color":"#a0a0a0"},"encoding":{}},
{"data":{"values":[{}]},"mark":{"type":"text","text":"加指标","font":"Noto Sans CJK SC","fontSize":7,"x":581.5,"y":280,"align":"center","baseline":"middle","color":"#a0a0a0"},"encoding":{}},
{"data":{"values":[{}]},"mark":{"type":"text","text":"换指标","font":"Noto Sans CJK SC","fontSize":7,"x":608.5,"y":280,"align":"center","baseline":"middle","color":"#a0a0a0"},"encoding":{}},
{"data":{"values":[{}]},"mark":{"type":"text","text":"✕","fontSize":6,"x":628,"y":280,"align":"center","baseline":"middle","color":"#a0a0a0"},"encoding":{}}
]
}
